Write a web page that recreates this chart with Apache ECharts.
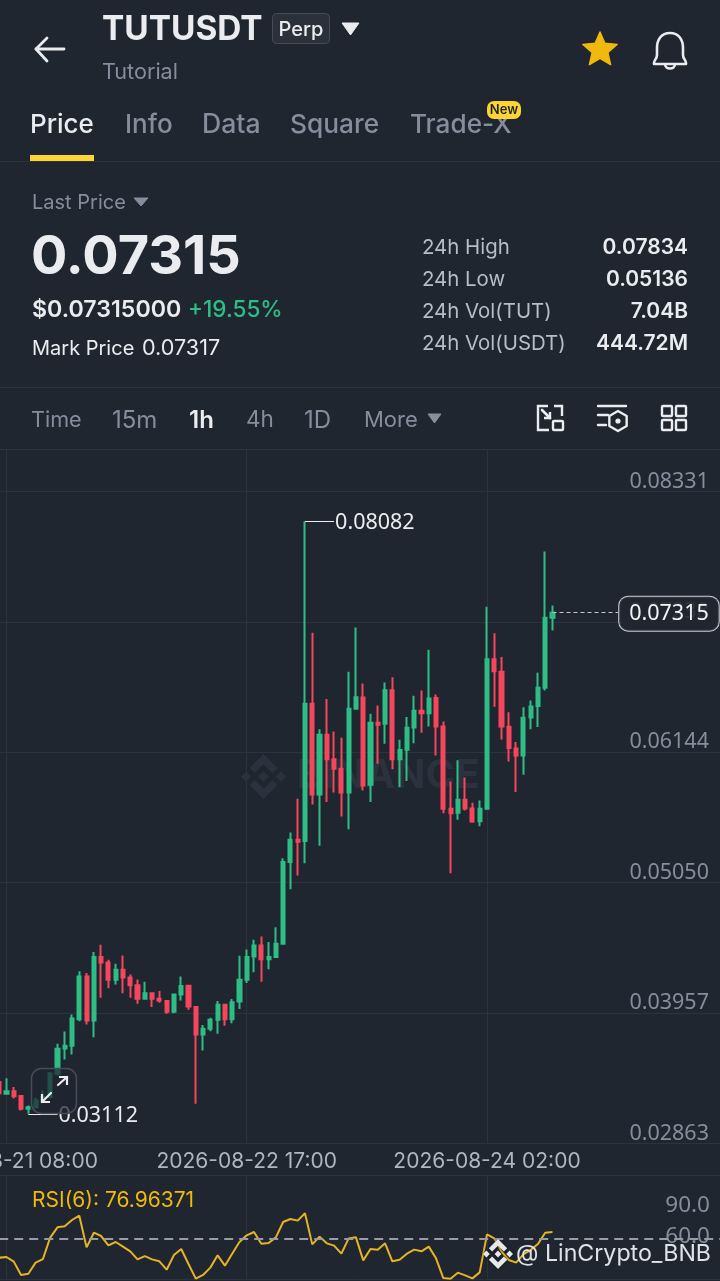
<!DOCTYPE html>
<html><head><meta charset="utf-8">
<style>html,body{margin:0;padding:0;background:#1f2630;overflow:hidden}#c{width:720px;height:1281px}</style>
<script src="https://cdn.jsdelivr.net/npm/echarts@6/dist/echarts.min.js"></script>
</head><body><div id="c"></div>
<script>
const opens=[.03378,.0328,.03302,.03262,.03154,.03168,.03224,.03252,.03448,.0366,.03682,.03906,.04264,.03895,.04426,.04381,.04236,.0432,.04255,.04191,.04076,.04124,.04076,.04057,.03967,.04113,.04186,.04007,.03777,.03825,.039,.04026,.03906,.04054,.04236,.04431,.04524,.04409,.04426,.04538,.05223,.0541,.05399,.0655,.0579,.0629,.06086,.06005,.05807,.06508,.06603,.05871,.06391,.06383,.06665,.06086,.06165,.06352,.06492,.06472,.06598,.0636,.0567,.05636,.05745,.05673,.05566,.0567,.06925,.06819,.06357,.06176,.06117,.06436,.06531,.06684,.07272];
const closes=[.03285,.03302,.0326,.03154,.03168,.03224,.03252,.03448,.03657,.03682,.03911,.04264,.03895,.04426,.04381,.04236,.0432,.04255,.04191,.04076,.04124,.04076,.04062,.03967,.04113,.04183,.04012,.03777,.03825,.039,.04026,.03906,.04048,.04236,.04426,.04524,.04409,.04426,.04538,.05223,.0541,.05393,.0655,.0579,.0629,.06086,.06005,.05807,.06508,.06606,.05866,.06391,.06374,.06665,.06086,.06162,.06349,.06492,.06472,.06595,.0636,.0567,.05633,.05745,.05673,.05564,.0567,.06925,.06824,.0636,.06179,.06117,.06433,.06528,.06684,.07272,.07315];
const lows=[.03266,.03271,.03241,.0314,.03112,.03162,.03224,.0324,.03434,.03568,.0361,.03889,.03861,.03755,.04085,.04166,.04197,.04124,.04085,.04034,.04068,.04007,.04043,.03951,.03956,.04062,.03984,.03196,.03643,.03805,.03783,.0385,.03872,.0399,.04208,.043,.04219,.04325,.04426,.0453,.04996,.05111,.05214,.05706,.0536,.05726,.05807,.05606,.05499,.065,.05824,.05726,.06047,.06215,.06002,.05852,.05902,.0622,.06307,.0636,.06117,.05633,.0513,.05578,.05656,.05552,.05524,.05667,.06525,.06251,.06067,.0581,.05955,.06338,.06355,.06662,.07165];
const highs=[.03392,.03411,.03336,.03266,.03182,.03246,.03308,.03462,.03699,.03803,.03945,.04308,.04292,.04468,.04529,.04403,.0437,.0444,.0428,.04239,.04219,.04127,.04141,.04062,.04113,.04264,.04194,.04012,.03856,.03917,.04057,.04026,.04074,.04437,.0449,.04571,.04599,.04552,.04677,.05256,.05471,.05754,.08082,.07146,.06338,.0659,.06318,.06265,.06819,.0719,.06721,.06467,.06536,.06729,.06774,.06248,.06439,.06617,.06662,.07003,.06629,.06402,.05899,.06078,.05933,.0572,.0574,.07364,.07143,.06942,.0648,.06229,.06522,.06578,.0681,.07828,.07375];
const rsi=[52.1,52.8,48.3,35.4,36.6,47.3,50.8,71.5,81.5,82.5,88.6,92.8,62.1,76.3,73.1,64.1,67.3,62.8,58.3,50.5,53.7,50.5,48.6,40.5,54.7,60.5,46.0,31.8,35.4,42.5,54.4,44.4,56.0,67.3,73.8,77.0,65.7,66.3,71.8,86.7,89.6,88.0,95.1,65.0,72.5,66.0,63.8,56.0,70.8,71.8,49.5,60.5,59.9,66.0,48.6,50.2,56.0,59.9,58.3,62.8,51.5,32.4,31.8,37.6,35.0,32.1,37.9,74.7,70.8,58.0,49.9,47.3,55.4,59.6,65.4,76.3,76.96];
const priceTicks=[0.08331,0.07238,0.06144,0.05050,0.03957,0.02863];
const rsiTicks=[60,90];
const timeTicks=['2026-08-21 08:00','2026-08-22 17:00','2026-08-24 02:00'];
const rsiGuide=70;
const lastPrice=0.07315, peak=0.08082, trough=0.03112;
const pad=n=>String(n).padStart(2,'0');
const categories=[];
for(let i=0;i<100;i++){const d=new Date(Date.UTC(2026,7,21,7+i));categories.push(`${d.getUTCFullYear()}-${pad(d.getUTCMonth()+1)}-${pad(d.getUTCDate())} ${pad(d.getUTCHours())}:00`);}
const candles=opens.map((o,i)=>[o,closes[i],lows[i],highs[i]]);
const peakIdx=highs.indexOf(peak), troughIdx=lows.indexOf(trough), lastIdx=closes.length-1;

const F='Inter, "Noto Sans", sans-serif', FN='"Noto Sans", sans-serif', BG='#1f2630', W='#eaecef', G='#848e9c', LINE='#2c333e', UP='#2ebd85', DOWN='#f6465d', Y='#fcd535';
const LOGO='M38.73 53.2l24.59-24.58 24.6 24.6 14.3-14.31L63.32 0 24.42 38.9z M0 63.31l14.3-14.31 14.31 14.31-14.31 14.3z M38.73 73.41l24.59 24.59 24.6-24.6 14.31 14.29-38.9 38.91-38.91-38.88-.02-.02z M98 63.31l14.3-14.31 14.31 14.3-14.31 14.32z M77.83 63.3L63.32 48.78 52.59 59.51l-1.24 1.23-2.54 2.54 14.51 14.5 14.51-14.47z';
const BELL='M16 1 C7 1 3 8 3 16 L3 23 C3 27 0 28 0 31 L0 32 L32 32 L32 31 C32 28 29 27 29 23 L29 16 C29 8 25 1 16 1 Z M11 32 C11 38 21 38 21 32';
echarts.graphic.registerShape('binanceLogo',echarts.graphic.extendPath(LOGO,{}));
echarts.graphic.registerShape('bell',echarts.graphic.extendPath(BELL,{}));
const T=(x,y,text,size,fill,weight=400,align='left',z=20,extra={})=>({type:'text',x,y:y+1.5,z,silent:true,style:Object.assign({text,fontSize:size,fontFamily:F,fontWeight:weight,fill,align,verticalAlign:'middle'},extra)});
const L=(x1,y1,x2,y2,stroke,lineWidth=1,z=20)=>({type:'line',z,silent:true,shape:{x1,y1,x2,y2},style:{stroke,lineWidth,lineCap:'round'}});
const R=(x,y,width,height,r,fill,stroke,lineWidth=1,z=20)=>({type:'rect',z,silent:true,shape:{x,y,width,height,r},style:{fill,stroke,lineWidth}});
const P=(points,style,z=20,closed=true)=>({type:closed?'polygon':'polyline',z,silent:true,shape:{points},style});
const S=(type,x,y,scale,style,z=20)=>({type,x,y,scaleX:scale,scaleY:scale,z,silent:true,shape:{},style});
const star=(cx,cy,r)=>{const p=[];for(let i=0;i<10;i++){const a=-Math.PI/2+i*Math.PI/5,q=i%2?r*0.46:r;p.push([cx+q*Math.cos(a),cy+q*Math.sin(a)]);}return p;};
const hex=(cx,cy,r)=>{const p=[];for(let i=0;i<6;i++){const a=-Math.PI/2+i*Math.PI/3;p.push([cx+r*Math.cos(a),cy+r*Math.sin(a)]);}return p;};

const ui=[
 // header
 P([[64,49],[36,49]],{stroke:W,lineWidth:2.8,fill:'none',lineCap:'round'},20,false),
 P([[47,38],[36,49],[47,61]],{stroke:W,lineWidth:2.8,fill:'none',lineCap:'round',lineJoin:'round'},20,false),
 T(102,28.5,'TUTUSDT',33.4,W,700),
 R(272.5,13.5,57,30,4,'#2b313b','#474d57'),
 T(301,28,'Perp',20,W,500,'center'),
 P([[342,23],[359,23],[350.5,35]],{fill:W,stroke:W,lineWidth:1,lineJoin:'round'}),
 T(102,70.5,'Tutorial',21.6,G),
 P(star(600,50,18),{fill:'#f0b90b',stroke:'#f0b90b',lineWidth:1.5,lineJoin:'round'}),
 S('bell',654,32,1,{fill:'transparent',stroke:W,lineWidth:2.6,lineJoin:'round'}),
 T(30,123.5,'Price',26,W,500),
 T(125,123.5,'Info',26,G,500),
 T(202,123.5,'Data',26.6,G,500),
 T(290,123.5,'Square',26.3,G,500),
 T(410,123.5,'Trade-X',26.2,G,500),
 R(487,101,34,18,7,Y,null,0),
 T(504,109,'New',13,'#1e2329',600,'center'),
 R(30,155,64,6,0,Y,null,0),
 L(0,161.5,720,161.5,LINE),
 // summary
 T(32,201,'Last Price',20,G),
 P([[134,198],[148,198],[141,206]],{fill:G,stroke:G,lineWidth:1,lineJoin:'round'}),
 T(31,256.5,'0.07315',54,W,700),
 T(32,309,'$0.07315000',23.2,W,600),
 T(188,309,'+19.55%',22.5,UP,500),
 T(32,347,'Mark Price',20,W),
 T(142,347,'0.07317',21.6,W),
 T(422,246,'24h High',20.4,'#b7bdc6'),T(688,246,'0.07834',21,W,600,'right'),
 T(422,278,'24h Low',20.4,'#b7bdc6'),T(688,278,'0.05136',21,W,600,'right'),
 T(422,310,'24h Vol(TUT)',20.4,'#b7bdc6'),T(688,310,'7.04B',21,W,600,'right'),
 T(422,342,'24h Vol(USDT)',20.4,'#b7bdc6'),T(688,342,'444.72M',21,W,600,'right'),
 L(0,387.5,720,387.5,LINE),
 // interval row
 T(31,419,'Time',21.6,G),T(112,419,'15m',24,G),T(189,419,'1h',24,W,600),T(246,419,'4h',22.5,G),T(304,419,'1D',24,G),T(364,419,'More',22,G),
 P([[428,414],[441,414],[434.5,423]],{fill:G,stroke:G,lineWidth:1,lineJoin:'round'}),
 // icon 1
 P([[548,406],[538,406],[538,430],[549,430]],{stroke:W,lineWidth:2.4,fill:'none'},20,false),
 P([[554,406],[562,406],[562,416]],{stroke:W,lineWidth:2.4,fill:'none'},20,false),
 R(553,421,10,9,1,'transparent',W,2.4),
 L(542,410,550,418,W,2.6),P([[544,418],[550,418],[550,412]],{stroke:W,lineWidth:2.4,fill:'none'},20,false),
 // icon 2
 L(598,406,626,406,W,2.4),L(598,415,608,415,W,2.4),L(598,425,606,425,W,2.4),
 P(hex(618,421,10),{stroke:W,lineWidth:2.4,fill:'transparent',lineJoin:'round'}),
 {type:'circle',z:20,silent:true,shape:{cx:618,cy:421,r:2.6},style:{fill:W}},
 // icon 3
 R(662,406,10,10,1,'transparent',W,2.4),R(676,406,10,10,1,'transparent',W,2.4),R(662,420,10,10,1,'transparent',W,2.4),R(676,420,10,10,1,'transparent',W,2.4),
 L(0,449.5,720,449.5,LINE),
 L(0,1175.5,720,1175.5,LINE),
 // chart watermark
 S('binanceLogo',241,754,45/126.61,{fill:'#2b323d'},1),
 T(297,774.5,'BINANCE',40,'#2b323d',700,'left',1),
 // expand button
 R(31.5,1068.5,45,45,10,'rgba(31,38,48,0.72)','#474d57',1.5,15),
 L(42,1102,51,1093,W,2.2,16),P([[42,1094],[42,1102],[50,1102]],{stroke:W,lineWidth:2.2,fill:'none'},16,false),
 L(58,1085,67,1077,W,2.2,16),P([[59,1077],[67,1077],[67,1085]],{stroke:W,lineWidth:2.2,fill:'none'},16,false),
 // RSI title
 T(32,1199.5,'RSI(6): 76.96371',21,'#f0b90b'),
 // page watermark
 S('binanceLogo',483,1239,30/126.61,{fill:'#e6e8ea',shadowBlur:3,shadowColor:'rgba(0,0,0,.6)'},30),
 T(516,1253,'@ LinCrypto_BNB',23.2,'#dfe2e6',400,'left',30,{shadowBlur:3,shadowColor:'rgba(0,0,0,.6)'})
];

const lead={symbol:'none',silent:true,animation:false,lineStyle:{color:W,width:1,type:'solid'},label:{show:false}};
const tag=(coord,value)=>({coord,value,symbol:'circle',symbolSize:0,label:{show:true,position:'right',distance:1,offset:[0,2],color:W,fontSize:21.5,fontFamily:FN,formatter:()=>value.toFixed(5)}});

const option={
 animation:false,backgroundColor:BG,
 graphic:{elements:ui},
 grid:[{left:-0.78,top:449.5,width:720.72,height:694,outerBoundsMode:'none'},{left:-0.78,top:1176,width:720.72,height:103,outerBoundsMode:'none'}],
 xAxis:[0,1].map(g=>({type:'category',gridIndex:g,data:categories,boundaryGap:false,
  axisLine:{show:true,lineStyle:{color:LINE,width:1}},axisTick:{show:false},
  axisLabel:{show:g===0,interval:(i,v)=>timeTicks.includes(v),color:'#b0b6bf',fontSize:21,fontFamily:F,margin:8,hideOverlap:false,showMinLabel:true,showMaxLabel:true},
  splitLine:{show:true,interval:(i,v)=>timeTicks.includes(v),lineStyle:{color:LINE,width:1}}})),
 yAxis:[
  {type:'value',gridIndex:0,position:'right',min:0.02863,max:0.08683,scale:true,
   axisLine:{show:false},axisTick:{show:false,customValues:priceTicks},
   axisLabel:{inside:true,margin:11,color:G,fontSize:21.5,fontFamily:FN,verticalAlign:'bottom',lineHeight:20,customValues:priceTicks,formatter:v=>v.toFixed(5),showMinLabel:true,showMaxLabel:true},
   splitLine:{show:true,lineStyle:{color:LINE,width:1}}},
  {type:'value',gridIndex:1,position:'right',min:31.48,max:131.2,scale:true,
   axisLine:{show:false},axisTick:{show:false,customValues:rsiTicks},
   axisLabel:{inside:true,margin:10,color:G,fontSize:22.5,fontFamily:FN,verticalAlign:'bottom',lineHeight:26,customValues:rsiTicks,formatter:v=>v.toFixed(1)},
   splitLine:{show:false}}
 ],
 series:[
  {type:'candlestick',xAxisIndex:0,yAxisIndex:0,data:candles,barWidth:3.6,clip:false,
   itemStyle:{color:UP,color0:DOWN,borderColor:UP,borderColor0:DOWN,borderWidth:2},
   markLine:Object.assign({},lead,{data:[
     [{coord:[categories[peakIdx],peak]},{coord:[categories[peakIdx+4],peak]}],
     [{coord:[categories[troughIdx],trough]},{coord:[categories[troughIdx+4],trough]}],
     [{coord:[categories[lastIdx],lastPrice]},{coord:[categories[lastIdx+9],lastPrice],lineStyle:{color:'#c3c7cd',width:1.2,type:[4,3]}}]
   ]}),
   markPoint:{silent:true,animation:false,z:12,data:[
     tag([categories[peakIdx+4],peak],peak),
     tag([categories[troughIdx+4],trough],trough),
     {coord:[categories[lastIdx+16],lastPrice],symbol:'circle',symbolSize:0,label:{show:true,position:'inside',offset:[0,1],color:'#f3f4f6',fontSize:21.5,fontFamily:FN,formatter:()=>lastPrice.toFixed(5),backgroundColor:'rgba(31,38,48,0.86)',borderColor:'#c9ccd1',borderWidth:1,borderRadius:9,padding:[6,10,6,10]}}
   ]}},
  {type:'line',xAxisIndex:1,yAxisIndex:1,data:rsi,symbol:'none',lineStyle:{color:'#e6b422',width:2},z:3,
   markLine:{symbol:'none',silent:true,animation:false,label:{show:false},lineStyle:{color:'#989ca4',width:2,type:[9,6]},data:[{yAxis:rsiGuide}]}}
 ]
};
const chart=echarts.init(document.getElementById('c'),null,{renderer:'canvas',width:720,height:1281});
chart.setOption(option);
</script></body></html>
